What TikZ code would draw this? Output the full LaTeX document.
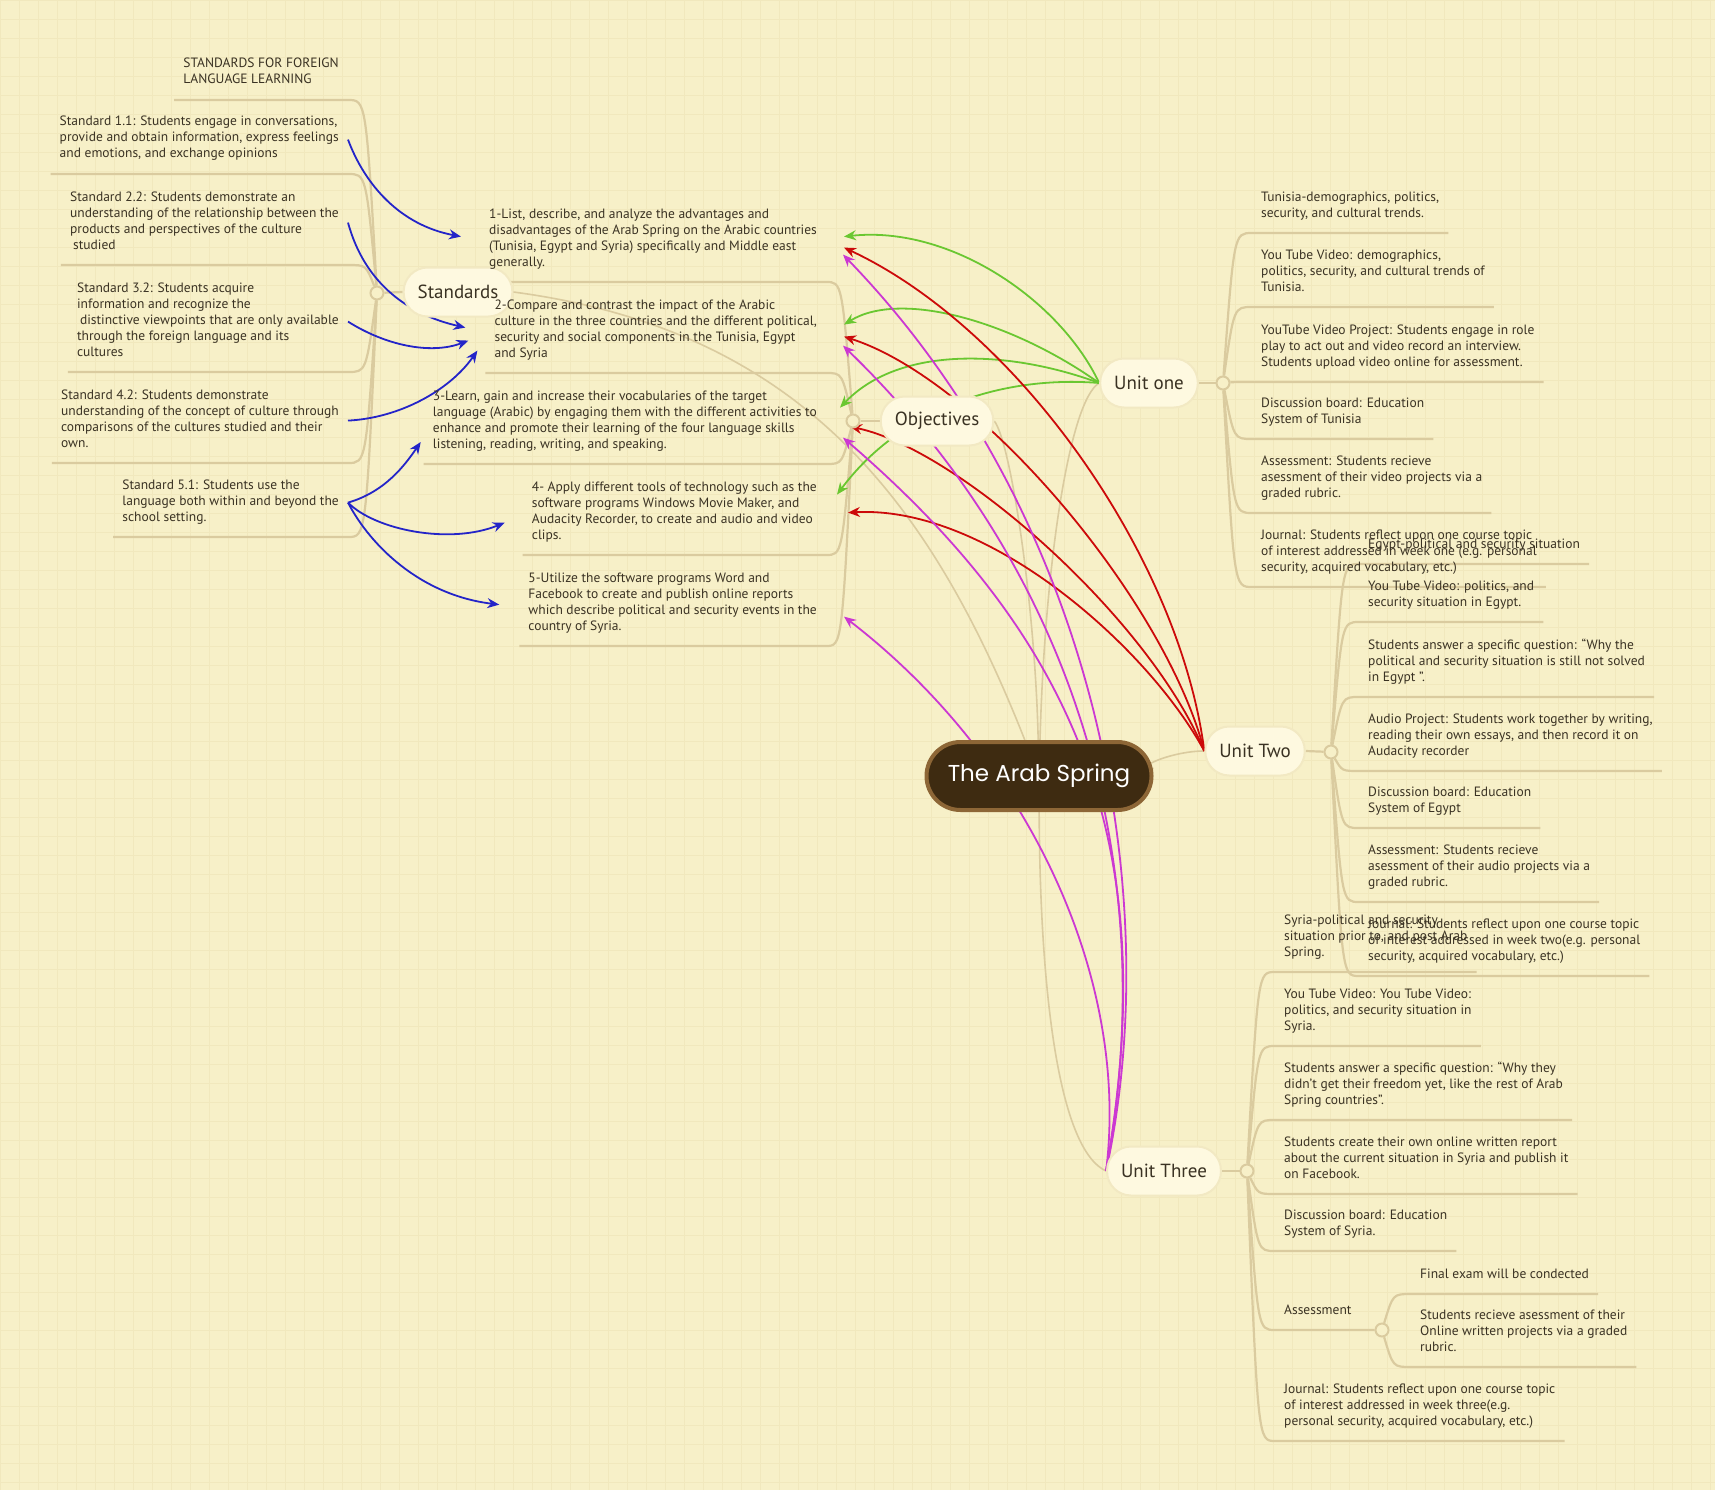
\documentclass[tikz,border=0pt]{standalone}
\usepackage{fontspec}
\setmainfont{PT Sans}
\newfontfamily\rootfont{Poppins}
\usetikzlibrary{arrows.meta}

\definecolor{paper}{HTML}{F7F0C8}
\definecolor{gridline}{HTML}{F1E8BD}
\definecolor{branchtan}{HTML}{DACB9F}
\definecolor{ink}{HTML}{3A3223}
\definecolor{pill}{HTML}{FEF9E0}
\definecolor{pillrim}{HTML}{F2E9C3}
\definecolor{rootfill}{HTML}{3E2B11}
\definecolor{rootrim}{HTML}{8D6636}
\definecolor{stdblue}{HTML}{2424C8}
\definecolor{onegreen}{HTML}{6AC731}
\definecolor{twored}{HTML}{CC0A0A}
\definecolor{threepink}{HTML}{CC38D2}

\pgfdeclarelayer{paperlayer}
\pgfdeclarelayer{links}
\pgfsetlayers{paperlayer,links,main}

\begin{document}
\begin{tikzpicture}[x=1pt,y=-1pt,
  leaf/.style={text=ink,align=left,inner xsep=9pt,inner ysep=11pt,
    font=\fontsize{13.5}{16}\selectfont,
    execute at begin node=\strut,execute at end node=\strut},
  topic/.style={fill=pill,draw=pillrim,line width=2pt,rounded corners=24pt,
    minimum height=49pt,inner xsep=14pt,text=ink,font=\fontsize{19}{22}\selectfont},
  knot/.style={circle,fill=paper,draw=branchtan,line width=2pt,minimum size=13pt,inner sep=0pt},
  twig/.style={draw=branchtan,line width=2.2pt},
  stem/.style={draw=branchtan,line width=1.6pt},
  rel/.style={line width=1.8pt,-{Stealth[length=12pt,width=10pt]}}
]
  \useasboundingbox (0,0) rectangle (1715,1490);

  \begin{pgfonlayer}{paperlayer}
    \fill[paper] (0,0) rectangle (1715,1490);
    \foreach \gx in {0,19,...,1715} \draw[gridline,line width=0.6pt] (\gx,0) -- (\gx,1490);
    \foreach \gy in {0,19,...,1490} \draw[gridline,line width=0.6pt] (0,\gy) -- (1715,\gy);
  \end{pgfonlayer}

  % central topic and main topics
  \node[fill=rootfill,draw=rootrim,line width=4pt,rounded corners=34pt,
    minimum width=225pt,minimum height=68pt,text=white,
    font=\rootfont\fontsize{23}{28}\selectfont] (root) at (1039,776) {The Arab Spring};

  \node[topic] (std) at (458,292) {Standards};
  \node[topic] (obj) at (937,421) {Objectives};
  \node[topic] (u1) at (1149,383) {Unit one};
  \node[topic] (u2) at (1255,751) {Unit Two};
  \node[topic] (u3) at (1164,1171) {Unit Three};

  \node[knot] (stdk) at (377,293) {};
  \node[knot] (objk) at (853,421) {};
  \node[knot] (u1k) at (1223,383) {};
  \node[knot] (u2k) at (1331,752) {};
  \node[knot] (u3k) at (1247,1171) {};
  \node[knot] (asmk) at (1382,1330) {};

  % standards
  \node[leaf,anchor=south east] (s0) at (348,100) {STANDARDS FOR FOREIGN\\LANGUAGE LEARNING};
  \node[leaf,anchor=south east] (s1) at (348,174) {Standard 1.1: Students engage in conversations,\\provide and obtain information, express feelings\\and emotions, and exchange opinions};
  \node[leaf,anchor=south east] (s2) at (348,265) {Standard 2.2: Students demonstrate an\\understanding of the relationship between the\\products and perspectives of the culture\\\hspace*{3pt}studied};
  \node[leaf,anchor=south east] (s3) at (348,372) {Standard 3.2: Students acquire\\information and recognize the\\\hspace*{3pt}distinctive viewpoints that are only available\\through the foreign language and its\\cultures};
  \node[leaf,anchor=south east] (s4) at (348,463) {Standard 4.2: Students demonstrate\\understanding of the concept of culture through\\comparisons of the cultures studied and their\\own.};
  \node[leaf,anchor=south east] (s5) at (348,537) {Standard 5.1: Students use the\\language both within and beyond the\\school setting.};

  % objectives
  \node[leaf,anchor=south east] (o1) at (826,282) {1-List, describe, and analyze the advantages and\\disadvantages of the Arab Spring on the Arabic countries\\(Tunisia, Egypt and Syria) specifically and Middle east\\generally.};
  \node[leaf,anchor=south east] (o2) at (826,373) {2-Compare and contrast the impact of the Arabic\\culture in the three countries and the different political,\\security and social components in the Tunisia, Egypt\\and Syria};
  \node[leaf,anchor=south east] (o3) at (826,464) {3-Learn, gain and increase their vocabularies of the target\\language (Arabic) by engaging them with the different activities to\\enhance and promote their learning of the four language skills\\listening, reading, writing, and speaking.};
  \node[leaf,anchor=south east] (o4) at (826,555) {4- Apply different tools of technology such as the\\software programs Windows Movie Maker, and\\Audacity Recorder, to create and audio and video\\clips.};
  \node[leaf,anchor=south east] (o5) at (826,646) {5-Utilize the software programs Word and\\Facebook to create and publish online reports\\which describe political and security events in the\\country of Syria.};

  % unit one
  \node[leaf,anchor=south west] (a1) at (1252,233) {Tunisia-demographics, politics,\\security, and cultural trends.};
  \node[leaf,anchor=south west] (a2) at (1252,307) {You Tube Video: demographics,\\politics, security, and cultural trends of\\Tunisia.};
  \node[leaf,anchor=south west] (a3) at (1252,382) {YouTube Video Project: Students engage in role\\play to act out and video record an interview.\\Students upload video online for assessment.};
  \node[leaf,anchor=south west] (a4) at (1252,439) {Discussion board: Education\\System of Tunisia};
  \node[leaf,anchor=south west] (a5) at (1252,513) {Assessment: Students recieve\\asessment of their video projects via a\\graded rubric.};
  \node[leaf,anchor=south west] (a6) at (1252,587) {Journal: Students reflect upon one course topic\\of interest addressed in week one (e.g. personal\\security, acquired vocabulary, etc.)};

  % unit two
  \node[leaf,anchor=south west] (b1) at (1359,564) {Egypt-political and security situation};
  \node[leaf,anchor=south west] (b2) at (1359,622) {You Tube Video: politics, and\\security situation in Egypt.};
  \node[leaf,anchor=south west] (b3) at (1359,697) {Students answer a specific question: “Why the\\political and security situation is still not solved\\in Egypt ”.};
  \node[leaf,anchor=south west] (b4) at (1359,771) {Audio Project: Students work together by writing,\\reading their own essays, and then record it on\\Audacity recorder};
  \node[leaf,anchor=south west] (b5) at (1359,828) {Discussion board: Education\\System of Egypt};
  \node[leaf,anchor=south west] (b6) at (1359,902) {Assessment: Students recieve\\asessment of their audio projects via a\\graded rubric.};
  \node[leaf,anchor=south west] (b7) at (1359,976) {Journal: Students reflect upon one course topic\\of interest addressed in week two(e.g. personal\\security, acquired vocabulary, etc.)};

  % unit three
  \node[leaf,anchor=south west] (c1) at (1275,972) {Syria-political and security\\situation prior to, and post Arab\\Spring.};
  \node[leaf,anchor=south west] (c2) at (1275,1046) {You Tube Video: You Tube Video:\\politics, and security situation in\\Syria.};
  \node[leaf,anchor=south west] (c3) at (1275,1120) {Students answer a specific question: “Why they\\didn’t get their freedom yet, like the rest of Arab\\Spring countries”.};
  \node[leaf,anchor=south west] (c4) at (1275,1194) {Students create their own online written report\\about the current situation in Syria and publish it\\on Facebook.};
  \node[leaf,anchor=south west] (c5) at (1275,1251) {Discussion board: Education\\System of Syria.};
  \node[leaf,anchor=south west] (c6) at (1275,1330) {Assessment};
  \node[leaf,anchor=south west] (c7) at (1275,1441) {Journal: Students reflect upon one course topic\\of interest addressed in week three(e.g.\\personal security, acquired vocabulary, etc.)};
  \node[leaf,anchor=south west] (d1) at (1411,1294) {Final exam will be condected};
  \node[leaf,anchor=south west] (d2) at (1411,1367) {Students recieve asessment of their\\Online written projects via a graded\\rubric.};

  \begin{pgfonlayer}{links}
    % tree lines
    \draw[stem] (root) .. controls (930,500) and (800,330) .. (std.east);
    \draw[stem] (root) .. controls (1035,600) and (1010,440) .. (obj.east);
    \draw[stem] (root) .. controls (1045,560) and (1070,400) .. (u1.west);
    \draw[stem] (root) .. controls (1130,770) and (1170,751) .. (u2.west);
    \draw[stem] (root) .. controls (1040,1000) and (1060,1150) .. (u3.west);

    \draw[twig] (std.west) -- (stdk);
    \draw[twig] (obj.west) -- (objk);
    \draw[twig] (u1.east) -- (u1k);
    \draw[twig] (u2.east) -- (u2k);
    \draw[twig] (u3.east) -- (u3k);

    \foreach \kid in {s0,s1,s2,s3,s4,s5}
      \draw[twig] (stdk) .. controls (366,0 |- \kid.south east) .. (\kid.south east) -- (\kid.south west);
    \foreach \kid in {o1,o2,o3,o4,o5}
      \draw[twig] (objk) .. controls (842,0 |- \kid.south east) .. (\kid.south east) -- (\kid.south west);
    \foreach \kid in {a1,a2,a3,a4,a5,a6}
      \draw[twig] (u1k) .. controls (1234,0 |- \kid.south west) .. (\kid.south west) -- (\kid.south east);
    \foreach \kid in {b1,b2,b3,b4,b5,b6,b7}
      \draw[twig] (u2k) .. controls (1342,0 |- \kid.south west) .. (\kid.south west) -- (\kid.south east);
    \foreach \kid in {c1,c2,c3,c4,c5,c7}
      \draw[twig] (u3k) .. controls (1258,0 |- \kid.south west) .. (\kid.south west) -- (\kid.south east);
    \draw[twig] (u3k) .. controls (1258,0 |- c6.south west) .. (c6.south west) -- (asmk);
    \foreach \kid in {d1,d2}
      \draw[twig] (asmk) .. controls (1393,0 |- \kid.south west) .. (\kid.south west) -- (\kid.south east);

    % standards to objectives
    \draw[rel,stdblue] (s1.east) .. controls (365,185) and (400,225) .. ([shift={(-19,-3)}]o1.west);
    \draw[rel,stdblue] (s2.east) .. controls (365,285) and (410,315) .. ([shift={(-20,-3)}]o2.west);
    \draw[rel,stdblue] (s3.east) .. controls (385,345) and (430,355) .. ([shift={(-17,10)}]o2.west);
    \draw[rel,stdblue] (s4.east) .. controls (400,418) and (450,390) .. ([shift={(-8,20)}]o2.west);
    \draw[rel,stdblue] (s5.east) .. controls (385,492) and (405,465) .. ([shift={(-3,-22)}]o3.south west);
    \draw[rel,stdblue] (s5.east) .. controls (375,530) and (450,545) .. ([shift={(-18,10)}]o4.west);
    \draw[rel,stdblue] (s5.east) .. controls (370,545) and (420,595) .. ([shift={(-20,1)}]o5.west);

    % unit one to objectives
    \draw[rel,onegreen] (u1.west) .. controls (1060,300) and (950,225) .. ([shift={(18,-3)}]o1.east);
    \draw[rel,onegreen] (u1.west) .. controls (1010,320) and (900,290) .. ([shift={(18,-6)}]o2.east);
    \draw[rel,onegreen] (u1.west) .. controls (1010,350) and (900,345) .. ([shift={(14,-14)}]o3.east);
    \draw[rel,onegreen] (u1.west) .. controls (1000,375) and (900,410) .. ([shift={(11,-18)}]o4.east);

    % unit two to objectives
    \draw[rel,twored] (u2.west) .. controls (1180,560) and (1020,330) .. ([shift={(18,8)}]o1.east);
    \draw[rel,twored] (u2.west) .. controls (1165,600) and (980,380) .. ([shift={(18,6)}]o2.east);
    \draw[rel,twored] (u2.west) .. controls (1150,620) and (960,450) .. ([shift={(24,5)}]o3.east);
    \draw[rel,twored] (u2.west) .. controls (1150,650) and (990,505) .. ([shift={(22,0)}]o4.east);

    % unit three to objectives
    \draw[rel,threepink] (u3.west) .. controls (1165,900) and (1100,520) .. ([shift={(17,15)}]o1.east);
    \draw[rel,threepink] (u3.west) .. controls (1160,880) and (1085,580) .. ([shift={(17,15)}]o2.east);
    \draw[rel,threepink] (u3.west) .. controls (1160,860) and (1090,650) .. ([shift={(17,16)}]o3.east);
    \draw[rel,threepink] (u3.west) .. controls (1130,980) and (1030,760) .. ([shift={(18,13)}]o5.east);
  \end{pgfonlayer}
\end{tikzpicture}
\end{document}
